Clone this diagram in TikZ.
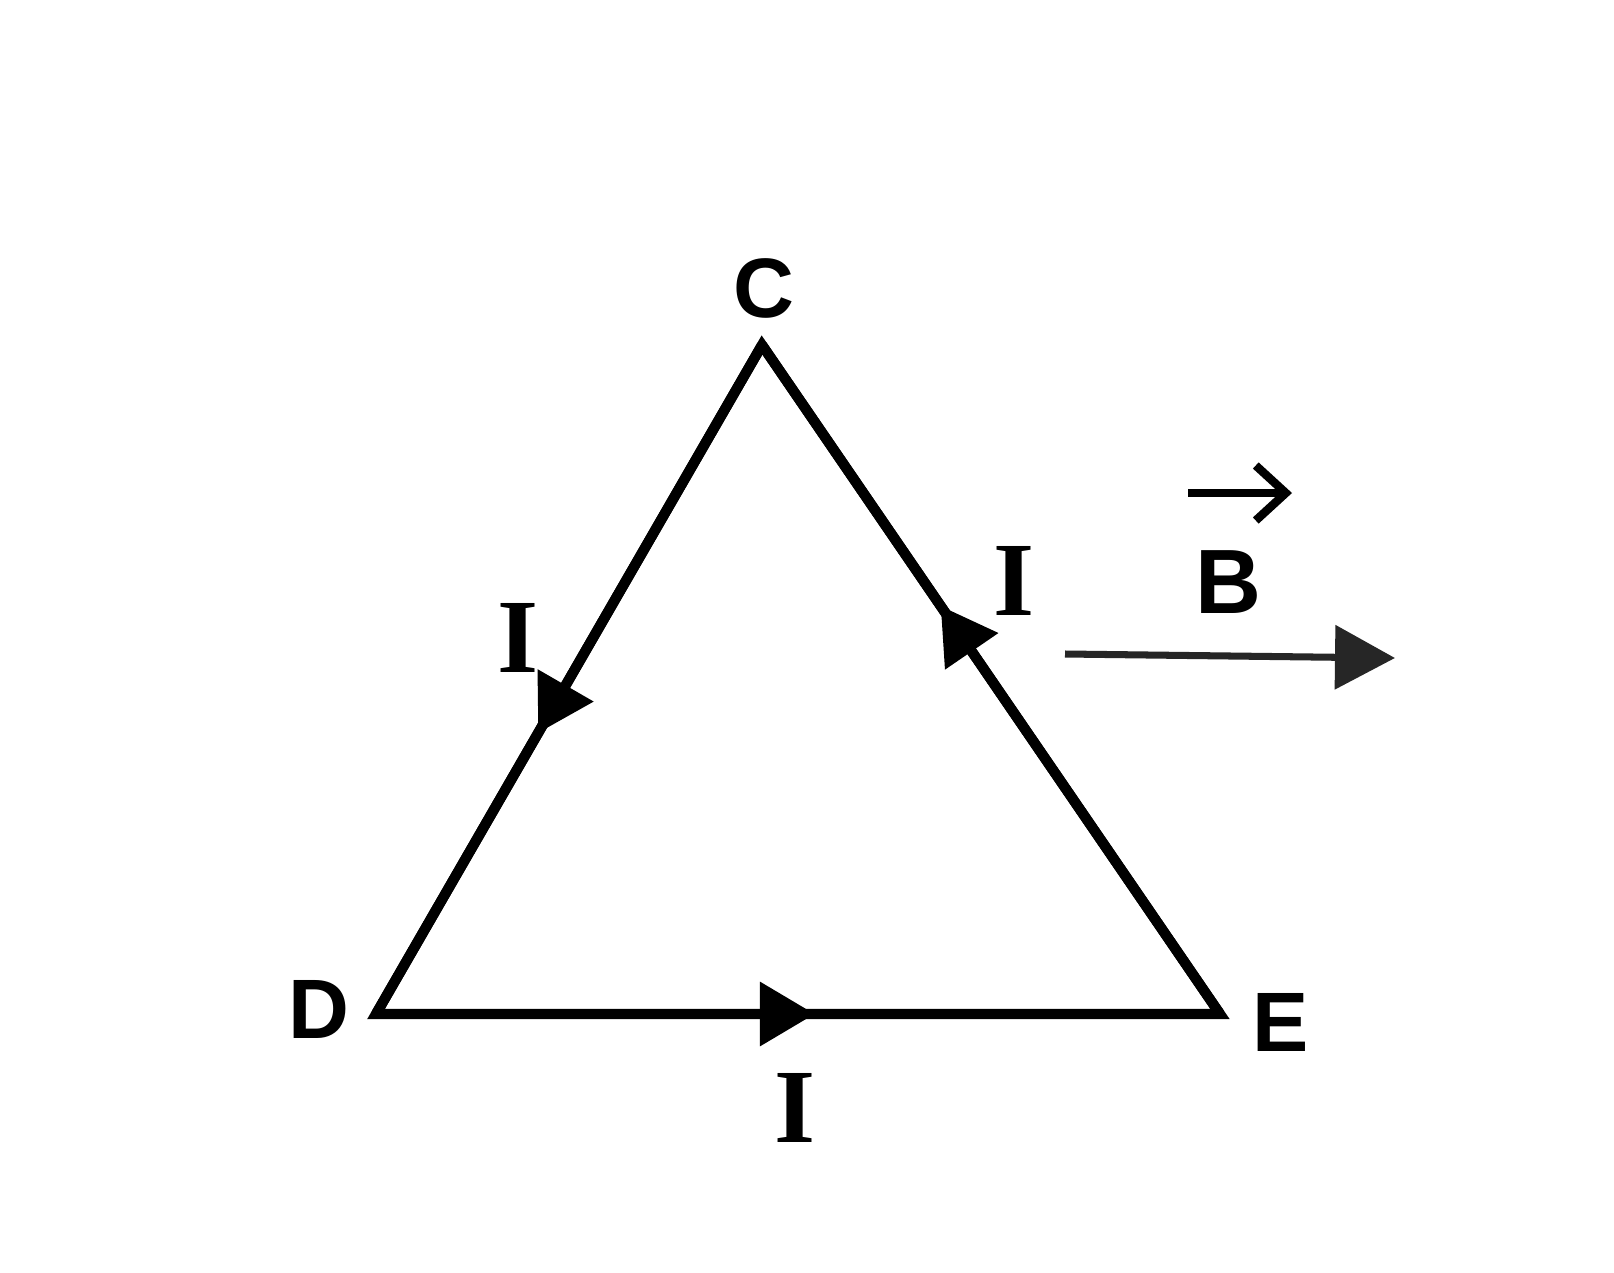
\documentclass[tikz,border=0pt]{standalone}
\usepackage{fontspec}
\setmainfont{Liberation Serif}
\newfontfamily\lblfont{Liberation Sans}
\usetikzlibrary{arrows.meta,decorations.markings}
\tikzset{
    wire/.style={line width=2.9pt, line join=miter},
    current/.style={postaction={decorate, decoration={markings, mark=at position #1 with {\arrow{Triangle[length=0.55cm, width=0.62cm]}}}}},
    vertex/.style={font=\lblfont\bfseries\fontsize{24}{28}\selectfont, inner sep=0pt},
    curr/.style={font=\bfseries\fontsize{30}{34}\selectfont, inner sep=0pt},
    field/.style={line width=2pt, black!85, -{Triangle[length=0.6cm, width=0.63cm]}}
}
\begin{document}
\begin{tikzpicture}
                    \useasboundingbox[fill=white] (0,0) rectangle (16.14,12.72);
                    \coordinate (C) at (7.62,9.27);
                    \coordinate (D) at (3.76,2.58);
                    \coordinate (E) at (12.20,2.58);

                    \draw[wire, current=0.58] (C) -- (D);
                    \draw[wire, current=0.52] (D) -- (E);
                    \draw[wire, current=0.61] (E) -- (C);
                    \draw[wire] (C) -- (D) -- (E) -- cycle;

                    \node[vertex] (labC) at (7.64,9.84) {C};
                    \node[vertex] (labD) at (3.19,2.63) {D};
                    \node[vertex] (labE) at (12.81,2.50) {E};

                    \node[curr] (iCD) at (5.18,6.34) {I};
                    \node[curr] (iEC) at (10.14,6.91) {I};
                    \node[curr] (iDE) at (7.95,1.64) {I};

                    \coordinate (fieldA) at (10.65,6.18);
                    \coordinate (fieldB) at (13.95,6.14);
                    \draw[field] (fieldA) -- (fieldB);
                    \node[vertex, font=\lblfont\bfseries\fontsize{26}{30}\selectfont] (labB) at (12.28,6.90) {B};
                    \coordinate (vecA) at (11.88,7.79);
                    \coordinate (vecB) at (12.92,7.79);
                    \draw[line width=2.4pt, -{Straight Barb[length=0.3cm, width=0.55cm, line width=2.4pt]}] (vecA) -- (vecB);

                \end{tikzpicture}
\end{document}
